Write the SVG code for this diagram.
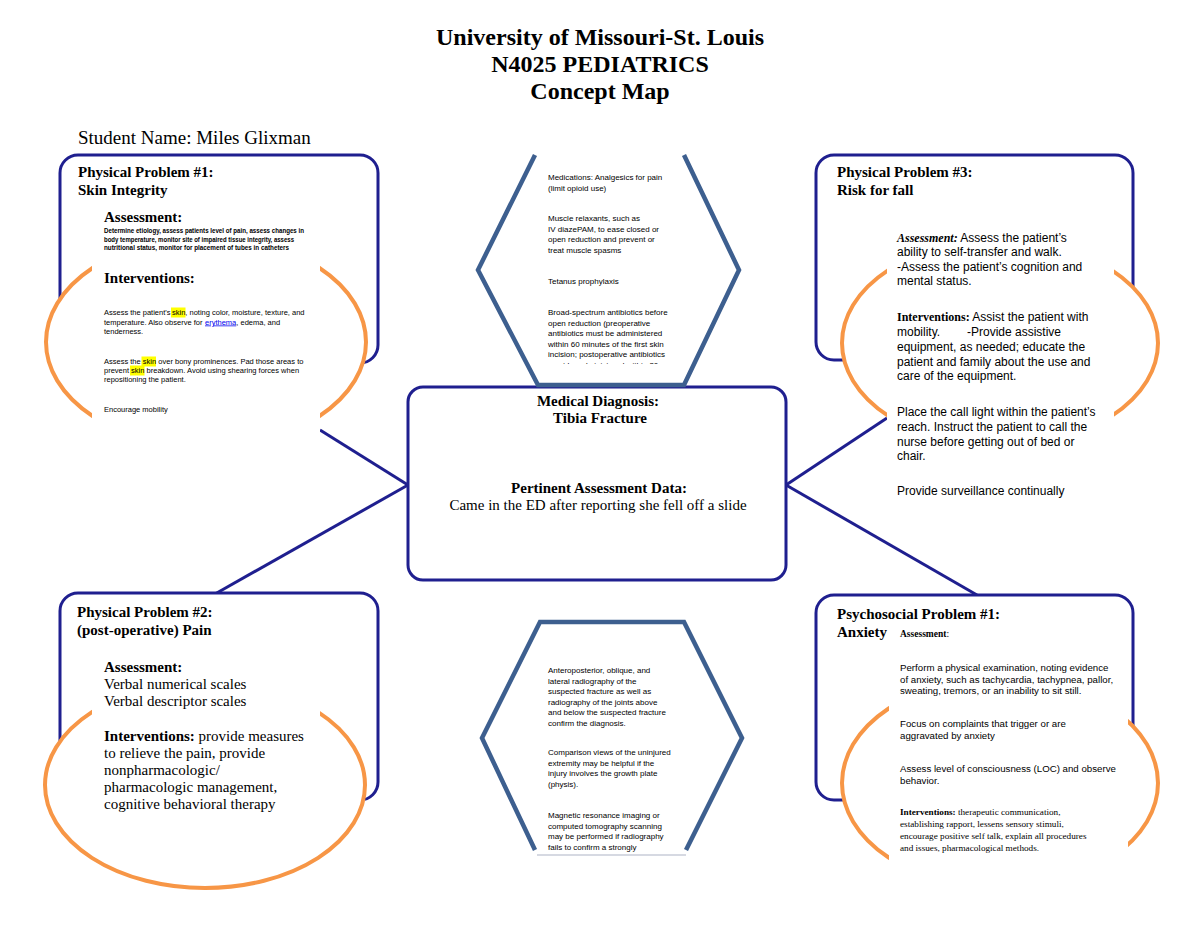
<svg xmlns="http://www.w3.org/2000/svg" width="1200" height="927" viewBox="0 0 1200 927">
<defs>
<style>
.box{fill:#fff;stroke:#1f1f8f;stroke-width:3}
.ell{fill:#fff;stroke:#f79646;stroke-width:4}
.wh{fill:#fff;stroke:none}
.hex{fill:none;stroke:#3d5f8f;stroke-width:4.5;stroke-linejoin:miter}
.conn{stroke:#1f1f8f;stroke-width:3;fill:none}
.ttl{font-family:"Liberation Serif",serif;font-weight:bold;font-size:24px;fill:#000}
.serif{font-family:"Liberation Serif",serif;fill:#000}
.sb{font-family:"Liberation Serif",serif;font-weight:bold;font-size:15px;fill:#000}
.sr{font-family:"Liberation Serif",serif;font-size:15px;fill:#000}
.hx{font-family:"Liberation Sans",Arial,sans-serif;font-size:8px;fill:#000}
.p1{font-family:"Liberation Sans",Arial,sans-serif;font-size:7.5px;fill:#000}
.p1a{font-family:"Liberation Sans",Arial,sans-serif;font-size:6.6px;font-weight:bold;fill:#000}
.p3{font-family:"Liberation Sans",Arial,sans-serif;font-size:12px;fill:#000}
.p4{font-family:"Liberation Sans",Arial,sans-serif;font-size:9.7px;fill:#000}
.p4s{font-family:"Liberation Serif",serif;font-size:9.2px;fill:#000}
.hl{fill:#ffff00}
</style>
<clipPath id="topclip"><rect x="540" y="160" width="150" height="204"/></clipPath>
</defs>

<rect width="1200" height="927" fill="#fff"/>

<g id="title">
<text class="ttl" x="600" y="45" text-anchor="middle">University of Missouri-St. Louis</text>
<text class="ttl" x="600" y="72" text-anchor="middle">N4025 PEDIATRICS</text>
<text class="ttl" x="600" y="99" text-anchor="middle">Concept Map</text>
<text class="serif" x="78" y="144" font-size="19">Student Name: Miles Glixman</text>
</g>

<g id="connectors">
<line class="conn" x1="408" y1="485" x2="320" y2="430"/>
<line class="conn" x1="408" y1="485" x2="215" y2="594"/>
<line class="conn" x1="786" y1="485" x2="887" y2="418"/>
<line class="conn" x1="786" y1="485" x2="977" y2="595"/>
</g>

<g id="pp1">
<rect class="box" x="60" y="155" width="318" height="208" rx="18"/>
<ellipse class="ell" cx="206" cy="342" rx="160" ry="105"/>
<rect class="wh" x="92" y="228" width="228" height="228"/>
<text class="sb" x="78" y="177">Physical Problem #1:</text>
<text class="sb" x="78" y="195">Skin Integrity</text>
<text class="sb" x="104" y="222">Assessment:</text>
<text class="p1a" x="104" y="233" textLength="200" lengthAdjust="spacingAndGlyphs">Determine etiology, assess patients level of pain, assess changes in</text>
<text class="p1a" x="104" y="241.5" textLength="190" lengthAdjust="spacingAndGlyphs">body temperature, monitor site of impaired tissue integrity, assess</text>
<text class="p1a" x="104" y="250" textLength="185" lengthAdjust="spacingAndGlyphs">nutritional status, monitor for placement of tubes in catheters</text>
<text class="sb" x="104" y="283">Interventions:</text>
<rect class="hl" x="171" y="307.5" width="14.5" height="10"/>
<text class="p1" x="104" y="315">Assess the patient's</text>
<text class="p1" x="172" y="315">skin</text>
<text class="p1" x="185.3" y="315">, noting color, moisture, texture, and</text>
<text class="p1" x="104" y="324.5">temperature. Also observe for</text>
<text class="p1" x="205" y="324.5" style="fill:#0000ee" text-decoration="underline">erythema</text>
<text class="p1" x="236.3" y="324.5">, edema, and</text>
<text class="p1" x="104" y="333.5">tenderness.</text>
<rect class="hl" x="141.5" y="356.5" width="14.5" height="10"/>
<text class="p1" x="104" y="364">Assess the</text>
<text class="p1" x="142.8" y="364">skin</text>
<text class="p1" x="158.3" y="364">over bony prominences. Pad those areas to</text>
<rect class="hl" x="130" y="365.5" width="14.5" height="10"/>
<text class="p1" x="104" y="373">prevent</text>
<text class="p1" x="131.1" y="373">skin</text>
<text class="p1" x="146.6" y="373">breakdown. Avoid using shearing forces when</text>
<text class="p1" x="104" y="382">repositioning the patient.</text>
<text class="p1" x="104" y="412">Encourage mobility</text>
</g>

<g id="pp2">
<rect class="box" x="60" y="593" width="318" height="207" rx="18"/>
<ellipse class="ell" cx="205" cy="785" rx="160" ry="103"/>
<rect class="wh" x="92" y="668" width="228" height="130"/>
<text class="sb" x="77" y="617">Physical Problem #2:</text>
<text class="sb" x="77" y="635">(post-operative) Pain</text>
<text class="sb" x="104" y="672">Assessment:</text>
<text class="sr" x="104" y="689">Verbal numerical scales</text>
<text class="sr" x="104" y="706">Verbal descriptor scales</text>
<text class="sr" x="104" y="741"><tspan font-weight="bold">Interventions:</tspan> provide measures</text>
<text class="sr" x="104" y="758">to relieve the pain, provide</text>
<text class="sr" x="104" y="775">nonpharmacologic/</text>
<text class="sr" x="104" y="792">pharmacologic management,</text>
<text class="sr" x="104" y="809">cognitive behavioral therapy</text>
</g>

<g id="pp3">
<rect class="box" x="816" y="155" width="317" height="205" rx="18"/>
<ellipse class="ell" cx="1000" cy="343" rx="158" ry="103"/>
<rect class="wh" x="887" y="230" width="227" height="228"/>
<text class="sb" x="837" y="177">Physical Problem #3:</text>
<text class="sb" x="837" y="195">Risk for fall</text>
<text class="p3" x="897" y="242"><tspan font-family="Liberation Serif, serif" font-weight="bold" font-style="italic">Assessment:</tspan> Assess the patient’s</text>
<text class="p3" x="897" y="256">ability to self-transfer and walk.</text>
<text class="p3" x="897" y="270.5">-Assess the patient’s cognition and</text>
<text class="p3" x="897" y="285">mental status.</text>
<text class="p3" x="897" y="321"><tspan font-family="Liberation Serif, serif" font-weight="bold">Interventions:</tspan> Assist the patient with</text>
<text class="p3" x="897" y="336">mobility.</text>
<text class="p3" x="967" y="336">-Provide assistive</text>
<text class="p3" x="897" y="351">equipment, as needed; educate the</text>
<text class="p3" x="897" y="365.5">patient and family about the use and</text>
<text class="p3" x="897" y="380">care of the equipment.</text>
<text class="p3" x="897" y="416">Place the call light within the patient’s</text>
<text class="p3" x="897" y="431">reach. Instruct the patient to call the</text>
<text class="p3" x="897" y="445.5">nurse before getting out of bed or</text>
<text class="p3" x="897" y="460">chair.</text>
<text class="p3" x="897" y="495">Provide surveillance continually</text>
</g>

<g id="pp4">
<rect class="box" x="816" y="595" width="317" height="205" rx="18"/>
<ellipse class="ell" cx="1000" cy="783" rx="158" ry="105"/>
<rect class="wh" x="889" y="672" width="239" height="225"/>
<text class="sb" x="837" y="619">Psychosocial Problem #1:</text>
<text class="sb" x="837" y="637">Anxiety</text>
<text class="serif" x="900" y="637" font-size="9.5"><tspan font-weight="bold">Assessment</tspan>:</text>
<text class="p4" x="900" y="671">Perform a physical examination, noting evidence</text>
<text class="p4" x="900" y="682.5">of anxiety, such as tachycardia, tachypnea, pallor,</text>
<text class="p4" x="900" y="694">sweating, tremors, or an inability to sit still.</text>
<text class="p4" x="900" y="727">Focus on complaints that trigger or are</text>
<text class="p4" x="900" y="738.5">aggravated by anxiety</text>
<text class="p4" x="900" y="772">Assess level of consciousness (LOC) and observe</text>
<text class="p4" x="900" y="783.5">behavior.</text>
<text class="p4s" x="900" y="815"><tspan font-weight="bold">Interventions:</tspan> therapeutic communication,</text>
<text class="p4s" x="900" y="827">establishing rapport, lessens sensory stimuli,</text>
<text class="p4s" x="900" y="839">encourage positive self talk, explain all procedures</text>
<text class="p4s" x="900" y="851">and issues, pharmacological methods.</text>
</g>

<g id="center">
<rect class="box" x="408" y="387" width="378" height="193" rx="15"/>
<text class="sb" x="598" y="406" text-anchor="middle">Medical Diagnosis:</text>
<text class="sb" x="600" y="423" text-anchor="middle">Tibia Fracture</text>
<text class="sb" x="599" y="493" text-anchor="middle">Pertinent Assessment Data:</text>
<text class="sr" x="598" y="510" text-anchor="middle">Came in the ED after reporting she fell off a slide</text>
</g>

<g id="medications">
<polygon class="wh" points="535,155 478,270 538,385 684,385 739,270 684,155"/>
<path class="hex" d="M535,155 L478,270 L538,385 L684,385 L739,270 L684,155"/>
<g clip-path="url(#topclip)">
<text class="hx" x="548" y="180">Medications: Analgesics for pain</text>
<text class="hx" x="548" y="191">(limit opioid use)</text>
<text class="hx" x="548" y="221">Muscle relaxants, such as</text>
<text class="hx" x="548" y="231.5">IV diazePAM, to ease closed or</text>
<text class="hx" x="548" y="242">open reduction and prevent or</text>
<text class="hx" x="548" y="252.5">treat muscle spasms</text>
<text class="hx" x="548" y="284">Tetanus prophylaxis</text>
<text class="hx" x="548" y="315">Broad-spectrum antibiotics before</text>
<text class="hx" x="548" y="325.5">open reduction (preoperative</text>
<text class="hx" x="548" y="336">antibiotics must be administered</text>
<text class="hx" x="548" y="346.5">within 60 minutes of the first skin</text>
<text class="hx" x="548" y="357">incision; postoperative antibiotics</text>
<text class="hx" x="548" y="367.5">must be administered within 30</text>
</g>
</g>

<g id="diagnostics">
<polygon class="wh" points="540,622 684,622 742,738 686,850 535,850 482,738"/>
<path class="hex" d="M535,850 L482,738 L540,622 L684,622 L742,738 L686,850"/>
<line x1="537" y1="855" x2="686" y2="855" stroke="#c9cdd9" stroke-width="1.5"/>
<text class="hx" x="548" y="673">Anteroposterior, oblique, and</text>
<text class="hx" x="548" y="683.5">lateral radiography of the</text>
<text class="hx" x="548" y="694">suspected fracture as well as</text>
<text class="hx" x="548" y="704.5">radiography of the joints above</text>
<text class="hx" x="548" y="715">and below the suspected fracture</text>
<text class="hx" x="548" y="725.5">confirm the diagnosis.</text>
<text class="hx" x="548" y="755">Comparison views of the uninjured</text>
<text class="hx" x="548" y="765.5">extremity may be helpful if the</text>
<text class="hx" x="548" y="776">injury involves the growth plate</text>
<text class="hx" x="548" y="786.5">(physis).</text>
<text class="hx" x="548" y="818">Magnetic resonance imaging or</text>
<text class="hx" x="548" y="828.5">computed tomography scanning</text>
<text class="hx" x="548" y="839">may be performed if radiography</text>
<text class="hx" x="548" y="849.5">fails to confirm a strongly</text>
</g>
</svg>
